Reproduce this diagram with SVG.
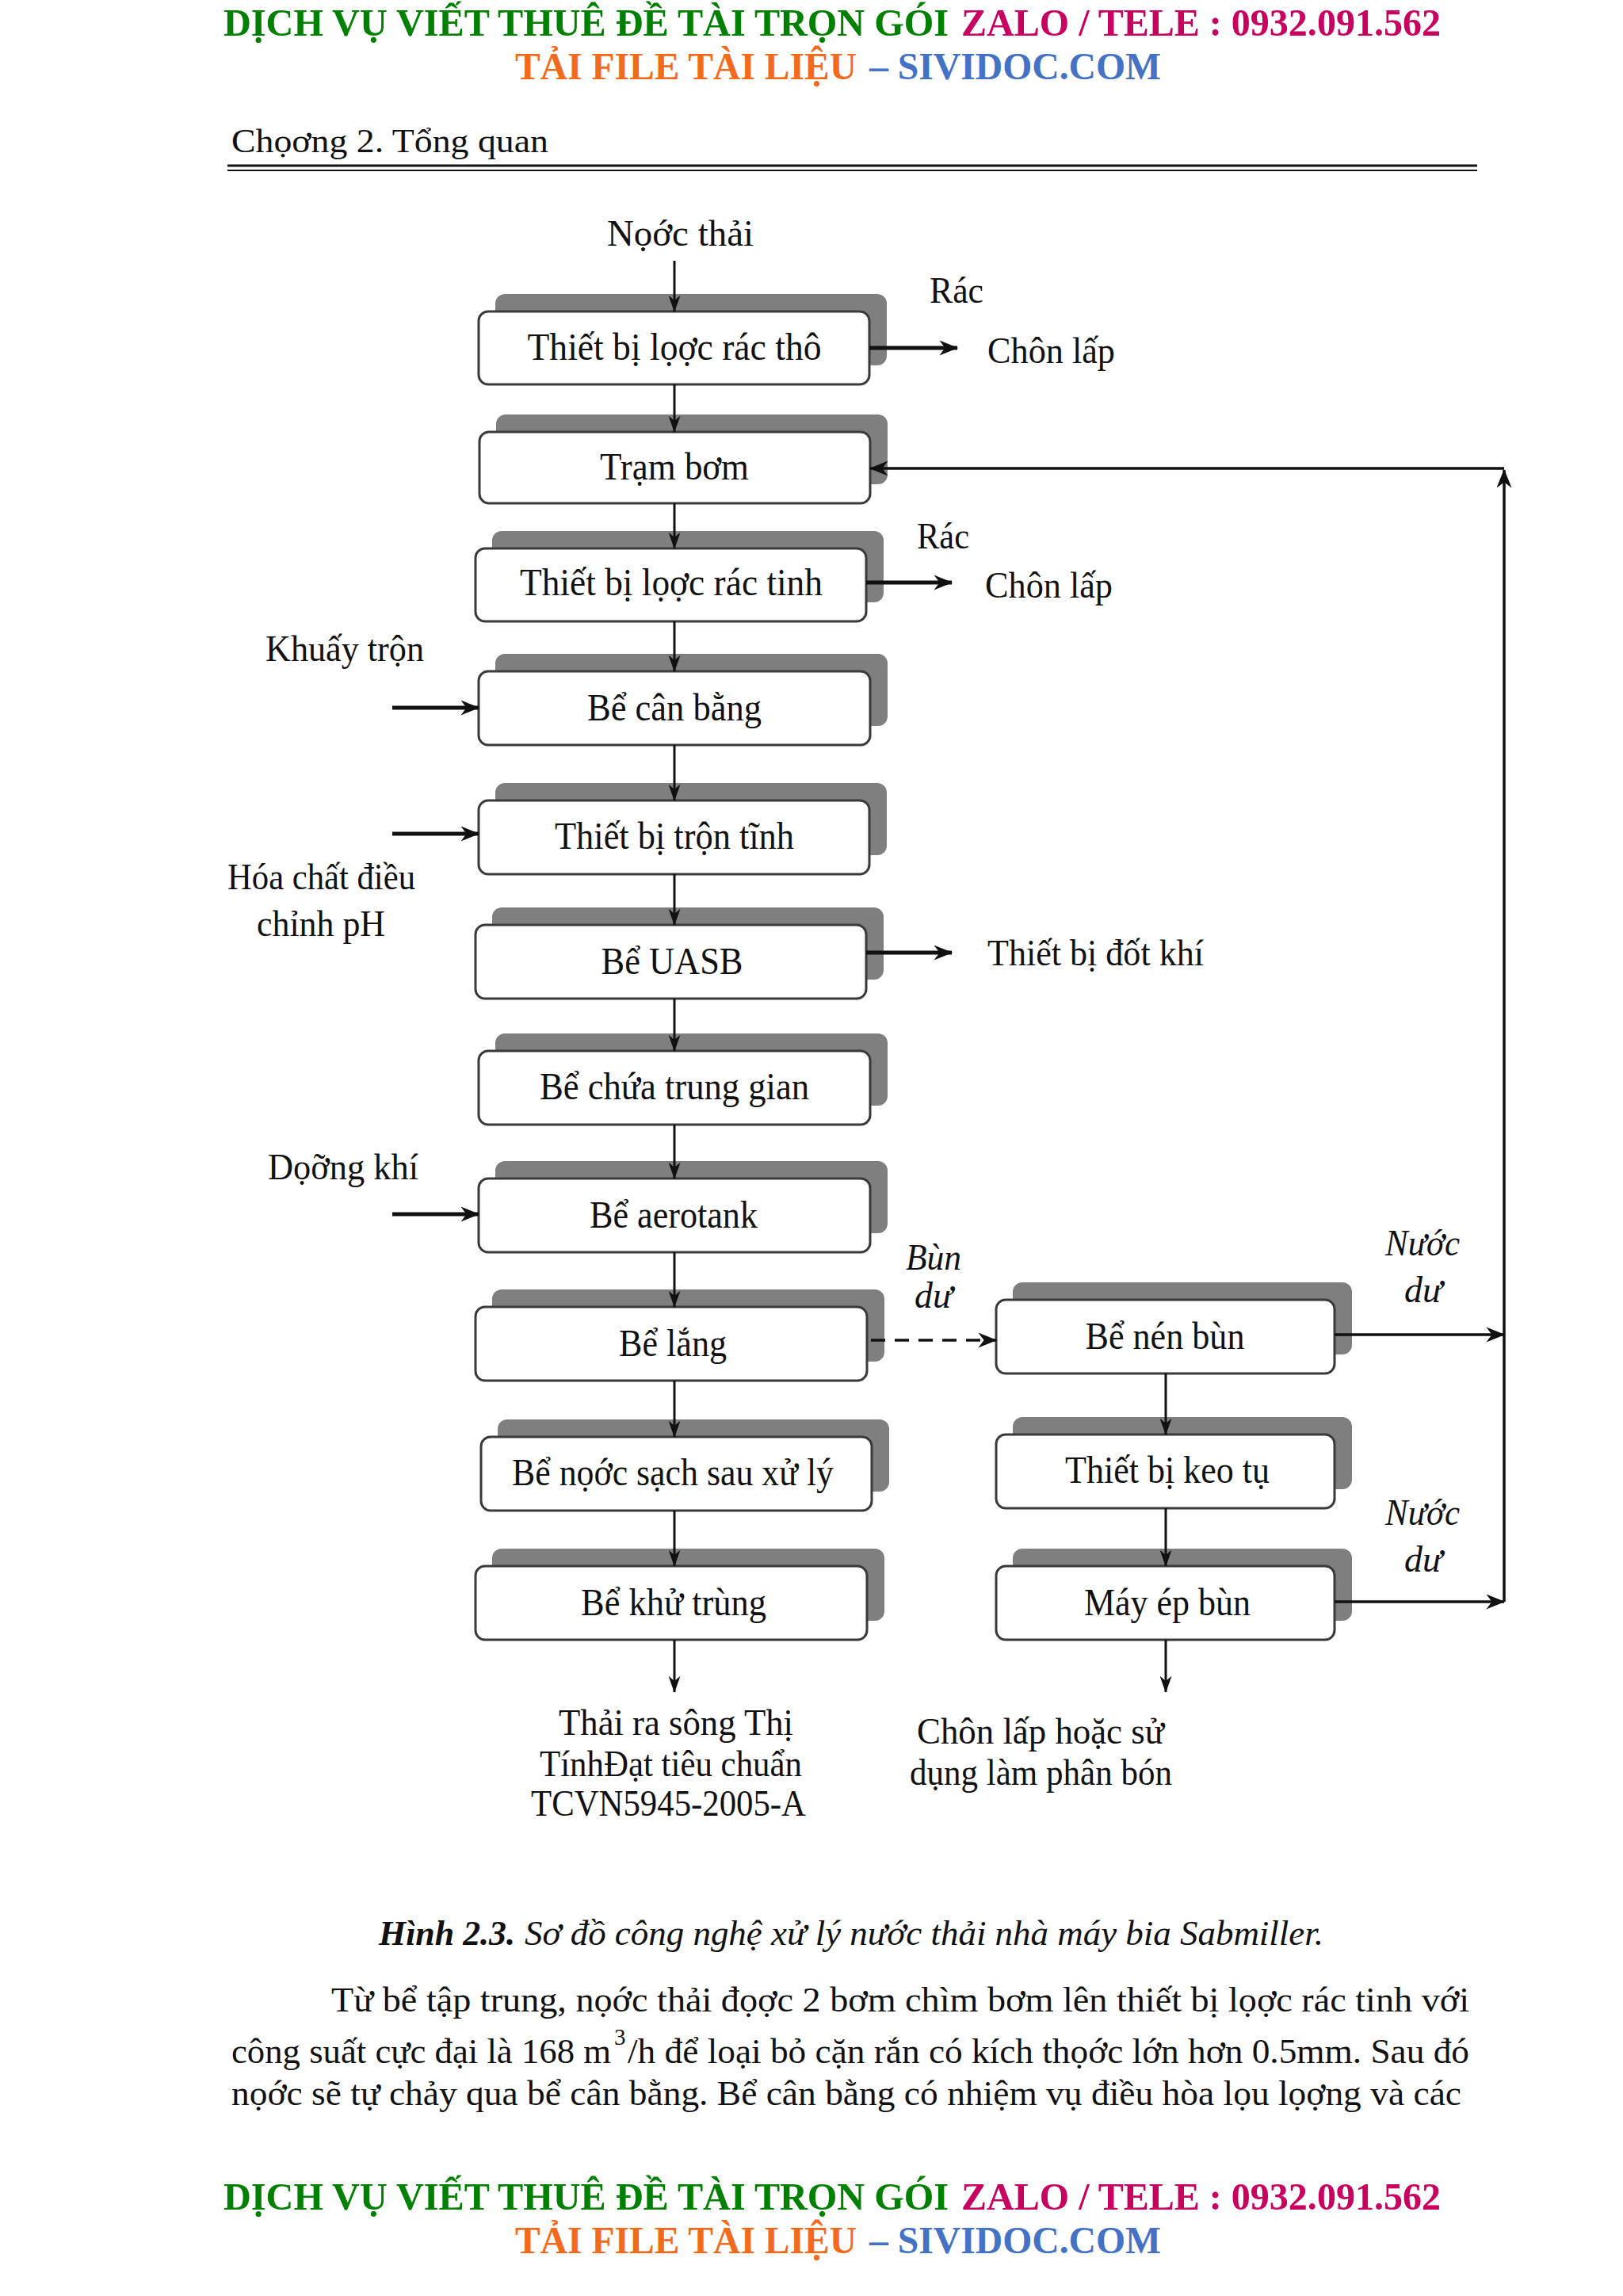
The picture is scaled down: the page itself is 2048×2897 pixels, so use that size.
<svg xmlns="http://www.w3.org/2000/svg" width="2048" height="2897" viewBox="0 0 2048 2897">
<defs>
<style>
.t{font-family:"Liberation Serif","Times New Roman",serif;fill:#111;}
.bx{font-size:48px;text-anchor:middle;}
.lb{font-size:47px;}
.it{font-style:italic;font-size:46px;}
.hd{font-family:"Liberation Serif","Times New Roman",serif;font-weight:bold;font-size:48px;}
.sh{fill:#7f7f7f;}
.box{fill:#fff;stroke:#3a3a3a;stroke-width:3;}
.c{fill:none;stroke:#111;}
.v{stroke-width:3;}
.h{stroke-width:5;}
.f{stroke-width:3.5;}
</style>
<marker id="ah" viewBox="0 0 20 14" refX="19" refY="7" markerWidth="24" markerHeight="15" markerUnits="userSpaceOnUse" orient="auto"><path d="M0,0 L20,7 L0,14 L6,7 z" fill="#111"/></marker>
<marker id="ahb" viewBox="0 0 20 16" refX="19" refY="8" markerWidth="26" markerHeight="19" markerUnits="userSpaceOnUse" orient="auto"><path d="M0,0 L20,8 L0,16 L6,8 z" fill="#111"/></marker>
</defs>
<rect width="2048" height="2897" fill="#fff"/>

<g id="header-top">
<text class="hd" x="282" y="45" fill="#008000" textLength="915" lengthAdjust="spacingAndGlyphs">DỊCH VỤ VIẾT THUÊ ĐỀ TÀI TRỌN GÓI</text>
<text class="hd" x="1213" y="45" fill="#c8005f" textLength="605" lengthAdjust="spacingAndGlyphs">ZALO / TELE : 0932.091.562</text>
<text class="hd" x="650" y="100" fill="#f26b1d" textLength="431" lengthAdjust="spacingAndGlyphs">TẢI FILE TÀI LIỆU</text>
<text class="hd" x="1097" y="100" fill="#4472c4" textLength="368" lengthAdjust="spacingAndGlyphs">– SIVIDOC.COM</text>
</g>
<text class="t" x="292" y="192" font-size="43" textLength="400" lengthAdjust="spacingAndGlyphs">Chọơng 2. Tổng quan</text>
<line x1="287" y1="209" x2="1864" y2="209" stroke="#111" stroke-width="3"/>
<line x1="287" y1="215" x2="1864" y2="215" stroke="#111" stroke-width="2"/>

<g id="n-thietbi-tho"><rect class="sh" x="625" y="371" width="494" height="90" rx="12"/><rect class="box" x="604" y="393" width="493" height="92" rx="12"/><text class="t bx" x="851" y="454" textLength="371" lengthAdjust="spacingAndGlyphs">Thiết bị lọợc rác thô</text></g>
<g id="n-tram-bom"><rect class="sh" x="626" y="523" width="494" height="88" rx="12"/><rect class="box" x="605" y="545" width="493" height="90" rx="12"/><text class="t bx" x="851" y="605" textLength="188" lengthAdjust="spacingAndGlyphs">Trạm bơm</text></g>
<g id="n-thietbi-tinh"><rect class="sh" x="621" y="670" width="494" height="90" rx="12"/><rect class="box" x="600" y="692" width="493" height="92" rx="12"/><text class="t bx" x="847" y="751" textLength="382" lengthAdjust="spacingAndGlyphs">Thiết bị lọợc rác tinh</text></g>
<g id="n-can-bang"><rect class="sh" x="625" y="825" width="495" height="91" rx="12"/><rect class="box" x="604" y="847" width="494" height="93" rx="12"/><text class="t bx" x="851" y="909" textLength="220" lengthAdjust="spacingAndGlyphs">Bể cân bằng</text></g>
<g id="n-tron-tinh"><rect class="sh" x="625" y="988" width="494" height="91" rx="12"/><rect class="box" x="604" y="1010" width="493" height="93" rx="12"/><text class="t bx" x="851" y="1071" textLength="302" lengthAdjust="spacingAndGlyphs">Thiết bị trộn tĩnh</text></g>
<g id="n-uasb"><rect class="sh" x="621" y="1145" width="494" height="91" rx="12"/><rect class="box" x="600" y="1167" width="493" height="93" rx="12"/><text class="t bx" x="848" y="1229" textLength="179" lengthAdjust="spacingAndGlyphs">Bể UASB</text></g>
<g id="n-trung-gian"><rect class="sh" x="625" y="1304" width="495" height="91" rx="12"/><rect class="box" x="604" y="1326" width="494" height="93" rx="12"/><text class="t bx" x="851" y="1387" textLength="340" lengthAdjust="spacingAndGlyphs">Bể chứa trung gian</text></g>
<g id="n-aerotank"><rect class="sh" x="625" y="1465" width="495" height="91" rx="12"/><rect class="box" x="604" y="1487" width="494" height="93" rx="12"/><text class="t bx" x="850" y="1549" textLength="212" lengthAdjust="spacingAndGlyphs">Bể aerotank</text></g>
<g id="n-lang"><rect class="sh" x="621" y="1627" width="495" height="91" rx="12"/><rect class="box" x="600" y="1649" width="494" height="93" rx="12"/><text class="t bx" x="849" y="1711" textLength="136" lengthAdjust="spacingAndGlyphs">Bể lắng</text></g>
<g id="n-nuoc-sach"><rect class="sh" x="628" y="1791" width="494" height="91" rx="12"/><rect class="box" x="607" y="1813" width="493" height="93" rx="12"/><text class="t bx" x="849" y="1874" textLength="406" lengthAdjust="spacingAndGlyphs">Bể nọớc sạch sau xử lý</text></g>
<g id="n-khu-trung"><rect class="sh" x="621" y="1954" width="495" height="91" rx="12"/><rect class="box" x="600" y="1976" width="494" height="93" rx="12"/><text class="t bx" x="850" y="2038" textLength="234" lengthAdjust="spacingAndGlyphs">Bể khử trùng</text></g>
<g id="n-nen-bun"><rect class="sh" x="1278" y="1618" width="428" height="91" rx="12"/><rect class="box" x="1257" y="1640" width="427" height="93" rx="12"/><text class="t bx" x="1470" y="1702" textLength="201" lengthAdjust="spacingAndGlyphs">Bể nén bùn</text></g>
<g id="n-keo-tu"><rect class="sh" x="1278" y="1788" width="428" height="91" rx="12"/><rect class="box" x="1257" y="1810" width="427" height="93" rx="12"/><text class="t bx" x="1473" y="1871" textLength="258" lengthAdjust="spacingAndGlyphs">Thiết bị keo tụ</text></g>
<g id="n-may-ep"><rect class="sh" x="1278" y="1954" width="428" height="91" rx="12"/><rect class="box" x="1257" y="1976" width="427" height="93" rx="12"/><text class="t bx" x="1473" y="2038" textLength="210" lengthAdjust="spacingAndGlyphs">Máy ép bùn</text></g>

<g id="connectors" marker-end="url(#ah)">
<path class="c v" d="M851,329 V393"/>
<path class="c v" d="M851,485 V545"/>
<path class="c v" d="M851,635 V692"/>
<path class="c v" d="M851,784 V847"/>
<path class="c v" d="M851,940 V1010"/>
<path class="c v" d="M851,1103 V1167"/>
<path class="c v" d="M851,1260 V1326"/>
<path class="c v" d="M851,1419 V1487"/>
<path class="c v" d="M851,1580 V1649"/>
<path class="c v" d="M851,1742 V1813"/>
<path class="c v" d="M851,1906 V1976"/>
<path class="c v" d="M851,2069 V2135"/>
<path class="c v" d="M1471,1733 V1810"/>
<path class="c v" d="M1471,1903 V1976"/>
<path class="c v" d="M1471,2069 V2135"/>
<path class="c h" marker-end="url(#ahb)" d="M1097,439 H1208"/>
<path class="c h" marker-end="url(#ahb)" d="M1093,735 H1201"/>
<path class="c h" marker-end="url(#ahb)" d="M495,893 H604"/>
<path class="c h" marker-end="url(#ahb)" d="M495,1052 H604"/>
<path class="c h" marker-end="url(#ahb)" d="M1093,1202 H1201"/>
<path class="c h" marker-end="url(#ahb)" d="M495,1532 H604"/>
<path class="c f" marker-end="url(#ahb)" stroke-dasharray="18,12" d="M1099,1691 H1257"/>
<path class="c f" marker-end="url(#ahb)" d="M1684,1684 H1898"/>
<path class="c f" marker-end="url(#ahb)" d="M1684,2021 H1898"/>
<path class="c f" marker-end="url(#ahb)" d="M1898,2021 V593"/>
<path class="c f" marker-end="url(#ahb)" d="M1898,591 H1098"/>
</g>

<g id="labels">
<text class="t lb" x="766" y="310" textLength="185" lengthAdjust="spacingAndGlyphs">Nọớc thải</text>
<text class="t lb" x="1173" y="382" textLength="68" lengthAdjust="spacingAndGlyphs">Rác</text>
<text class="t lb" x="1246" y="458" textLength="161" lengthAdjust="spacingAndGlyphs">Chôn lấp</text>
<text class="t lb" x="1157" y="692" textLength="66" lengthAdjust="spacingAndGlyphs">Rác</text>
<text class="t lb" x="1243" y="754" textLength="161" lengthAdjust="spacingAndGlyphs">Chôn lấp</text>
<text class="t lb" x="335" y="834" textLength="200" lengthAdjust="spacingAndGlyphs">Khuấy trộn</text>
<text class="t lb" x="287" y="1122" textLength="237" lengthAdjust="spacingAndGlyphs">Hóa chất điều</text>
<text class="t lb" x="324" y="1181" textLength="162" lengthAdjust="spacingAndGlyphs">chỉnh pH</text>
<text class="t lb" x="1246" y="1218" textLength="273" lengthAdjust="spacingAndGlyphs">Thiết bị đốt khí</text>
<text class="t lb" x="338" y="1488" textLength="190" lengthAdjust="spacingAndGlyphs">Dọỡng khí</text>
<text class="t it" x="1143" y="1602" textLength="70" lengthAdjust="spacingAndGlyphs">Bùn</text>
<text class="t it" x="1154" y="1650" textLength="48" lengthAdjust="spacingAndGlyphs">dư</text>
<text class="t it" x="1748" y="1584" textLength="94" lengthAdjust="spacingAndGlyphs">Nước</text>
<text class="t it" x="1772" y="1643" textLength="48" lengthAdjust="spacingAndGlyphs">dư</text>
<text class="t it" x="1748" y="1924" textLength="94" lengthAdjust="spacingAndGlyphs">Nước</text>
<text class="t it" x="1772" y="1983" textLength="48" lengthAdjust="spacingAndGlyphs">dư</text>
<text class="t lb" x="705" y="2189" textLength="296" lengthAdjust="spacingAndGlyphs">Thải ra sông Thị</text>
<text class="t lb" x="681" y="2241" textLength="331" lengthAdjust="spacingAndGlyphs">TínhĐạt tiêu chuẩn</text>
<text class="t lb" x="670" y="2291" textLength="347" lengthAdjust="spacingAndGlyphs">TCVN5945-2005-A</text>
<text class="t lb" x="1157" y="2200" textLength="312" lengthAdjust="spacingAndGlyphs">Chôn lấp hoặc sử</text>
<text class="t lb" x="1148" y="2252" textLength="331" lengthAdjust="spacingAndGlyphs">dụng làm phân bón</text>
</g>

<g id="caption">
<text class="t" x="478" y="2454" font-size="44" font-style="italic" font-weight="bold" textLength="172" lengthAdjust="spacingAndGlyphs">Hình 2.3.</text>
<text class="t" x="662" y="2454" font-size="44" font-style="italic" textLength="1008" lengthAdjust="spacingAndGlyphs">Sơ đồ công nghệ xử lý nước thải nhà máy bia Sabmiller.</text>
</g>
<g id="paragraph">
<text class="t" x="418" y="2538" font-size="45" textLength="1436" lengthAdjust="spacingAndGlyphs">Từ bể tập trung, nọớc thải đọợc 2 bơm chìm bơm lên thiết bị lọợc rác tinh với</text>
<text class="t" x="292" y="2603" font-size="45" textLength="479" lengthAdjust="spacingAndGlyphs">công suất cực đại là 168 m</text>
<text class="t" x="775" y="2580" font-size="29">3</text>
<text class="t" x="792" y="2603" font-size="45" textLength="1062" lengthAdjust="spacingAndGlyphs">/h để loại bỏ cặn rắn có kích thọớc lớn hơn 0.5mm. Sau đó</text>
<text class="t" x="292" y="2656" font-size="45" textLength="1552" lengthAdjust="spacingAndGlyphs">nọớc sẽ tự chảy qua bể cân bằng. Bể cân bằng có nhiệm vụ điều hòa lọu lọợng và các</text>
</g>

<g id="header-bottom">
<text class="hd" x="282" y="2788" fill="#008000" textLength="915" lengthAdjust="spacingAndGlyphs">DỊCH VỤ VIẾT THUÊ ĐỀ TÀI TRỌN GÓI</text>
<text class="hd" x="1213" y="2788" fill="#c8005f" textLength="605" lengthAdjust="spacingAndGlyphs">ZALO / TELE : 0932.091.562</text>
<text class="hd" x="650" y="2843" fill="#f26b1d" textLength="431" lengthAdjust="spacingAndGlyphs">TẢI FILE TÀI LIỆU</text>
<text class="hd" x="1097" y="2843" fill="#4472c4" textLength="368" lengthAdjust="spacingAndGlyphs">– SIVIDOC.COM</text>
</g>
</svg>
